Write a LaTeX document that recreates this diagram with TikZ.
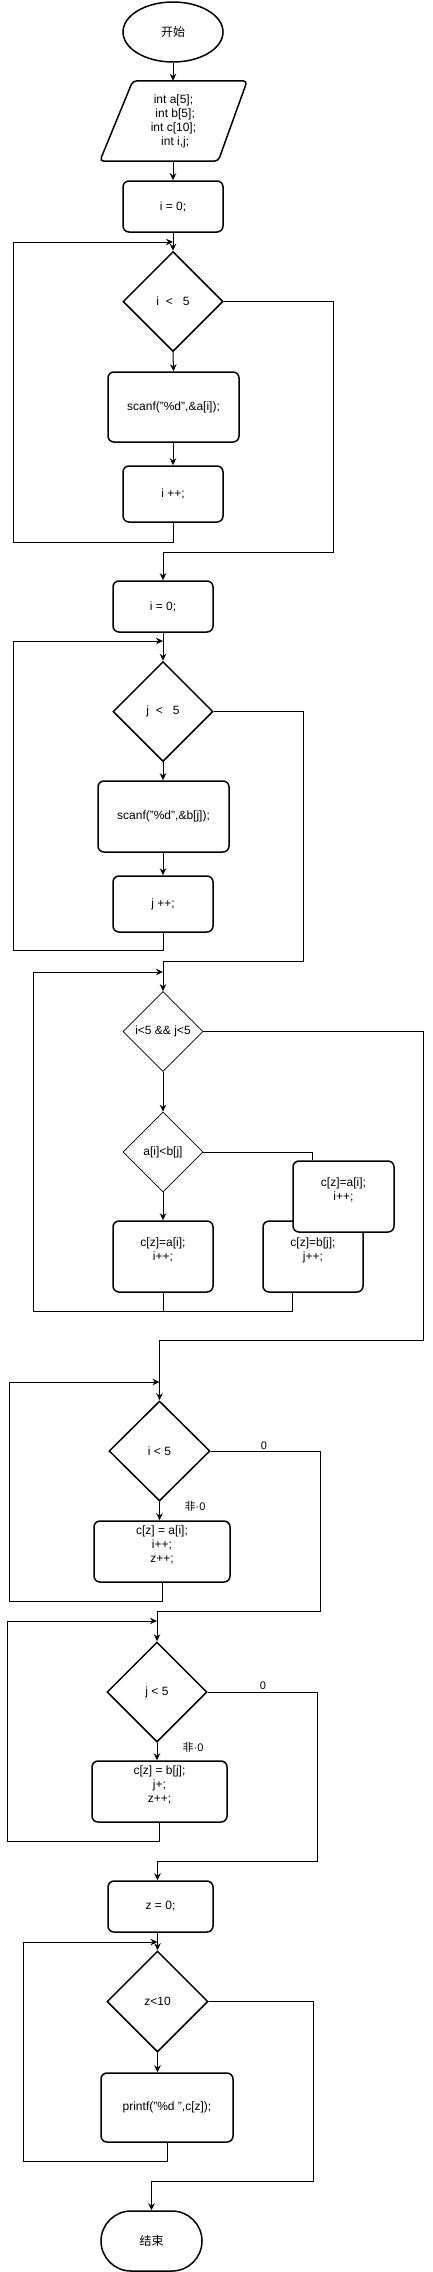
\documentclass[tikz,border=0pt]{standalone}
\usepackage{fontspec}
\setmainfont{Liberation Sans}
\newfontfamily\cjk{Noto Sans CJK SC}
\usetikzlibrary{shapes.geometric,arrows.meta,calc}
\begin{document}
\begin{tikzpicture}[x=1pt,y=-1pt,
  every node/.style={font=\fontsize{12}{14}\selectfont},
  box/.style={draw, line width=1.5pt, rounded corners=6pt, align=center, inner sep=0pt, fill=white},
  dia/.style={draw, diamond, aspect=1, line width=1.5pt, inner sep=0pt, align=center},
  thindia/.style={draw, diamond, aspect=1, line width=0.8pt, inner sep=0pt, align=center},
  arr/.style={-{Stealth[length=7pt,width=6.5pt]}, line width=1pt},
  ln/.style={line width=1pt},
  lbl/.style={font=\fontsize{11}{13}\selectfont, inner sep=1pt}]
\useasboundingbox (0,0) rectangle (432,2272);

% start
\node[draw, ellipse, line width=1.5pt, minimum width=100, minimum height=60, inner sep=0pt] (start) at (173,32) {\cjk 开始};
% declarations (parallelogram)
\node[minimum width=147, minimum height=80, inner sep=0pt, align=center] (decl) at (173.5,121) {int a[5];\\\ int b[5];\\int c[10];\\\ int i,j;};
\draw[line width=1.5pt, rounded corners=4pt] ($(decl.south west)+(50,0)$) -- (decl.south west) -- ($(decl.north west)+(33,0)$) -- (decl.north east) -- ($(decl.south east)+(-29,0)$) -- cycle;

% first loop
\node[box, minimum width=100, minimum height=51] (init1) at (173,206.5) {i = 0;};
\node[dia, minimum width=100, minimum height=100] (d1) at (173,301.5) {i\ \ <\ \ \ 5};
\node[box, minimum width=131, minimum height=70] (scanA) at (173.5,407) {scanf("\%d",\&a[i]);};
\node[box, minimum width=100, minimum height=56] (incI) at (173,494) {i ++;};
\coordinate (j1) at (173,242);

% second loop
\node[box, minimum width=100, minimum height=51] (init2) at (163,606.5) {i = 0;};
\node[dia, minimum width=100, minimum height=100] (d2) at (163,711.5) {j\ \ <\ \ \ 5};
\node[box, minimum width=131, minimum height=71] (scanB) at (163.5,816.5) {scanf("\%d",\&b[j]);};
\node[box, minimum width=100, minimum height=56] (incJ) at (163,904) {j ++;};
\coordinate (j2) at (163,641);

% merge loop
\node[thindia, minimum width=80, minimum height=80] (d3) at (163,1031.5) {i<5 \&\& j<5};
\node[thindia, minimum width=80, minimum height=80] (d4) at (163,1152) {a[i]<b[j]};
\node[box, minimum width=100, minimum height=71] (A) at (163,1256.5) {c[z]=a[i];\\ i++;\\\mbox{}};
\node[box, minimum width=100, minimum height=71] (B) at (313,1256.5) {c[z]=b[j];\\ j++;\\\mbox{}};
\node[box, minimum width=101, minimum height=71] (A2) at (343.5,1196.5) {c[z]=a[i];\\ i++;\\\mbox{}};
\coordinate (j3) at (163,972);
\coordinate (b3) at (163,1311);

% rest of a
\node[dia, minimum width=101, minimum height=100] (d5) at (159.5,1451) {i < 5};
\node[box, minimum width=136, minimum height=61] (C) at (162,1551.5) {c[z] = a[i];\\ i++;\\ z++;\\\mbox{}};
\coordinate (j5) at (159.5,1382);

% rest of b
\node[dia, minimum width=100, minimum height=100] (d6) at (157,1692) {j < 5};
\node[box, minimum width=135, minimum height=61] (D) at (159.5,1791.5) {c[z] = b[j];\\ j+;\\ z++;\\\mbox{}};
\coordinate (j6) at (157,1621);

% print loop
\node[box, minimum width=105, minimum height=51] (z0) at (160.5,1906.5) {z = 0;};
\node[dia, minimum width=101, minimum height=101] (d7) at (157.5,2001.5) {z<10};
\node[box, minimum width=132, minimum height=69] (P) at (167,2107.5) {printf("\%d ",c[z]);};
\coordinate (j7) at (157.5,1942);

% end
\node[draw, line width=1.5pt, rounded corners=30pt, minimum width=101, minimum height=60, inner sep=0pt] (end) at (151.5,2241) {\cjk 结束};

% connectors
\draw[arr] (start.south) -- (start.south |- decl.north);
\draw[arr] (start.south |- decl.south) -- (init1.north);
\draw[arr] (init1.south) -- (d1.north);
\draw[arr] (d1.south) -- (scanA.north);
\draw[arr] (scanA.south -| d1.south) -- (incI.north);
\draw[arr] (incI.south) -- ++(0,20) -| (13,242) -- (j1);
\draw[arr] (d1.east) -| (333,552) -| (init2.north);

\draw[arr] (init2.south) -- (d2.north);
\draw[arr] (d2.south) -- (scanB.north -| d2.south);
\draw[arr] (scanB.south -| d2.south) -- (incJ.north);
\draw[arr] (incJ.south) -- ++(0,18) -| (13,641) -- (j2);
\draw[arr] (d2.east) -| (303,961) -| (d3.north);

\draw[arr] (d3.south) -- (d4.north);
\draw[arr] (d4.south) -- (A.north);
\draw[ln] (d4.east) -| ($(A2.north west)+(20,0)$);
\draw[arr] (A.south) -- (b3) -| (33,972) -- (j3);
\draw[ln] ($(B.south west)+(30,0)$) |- (b3);
\draw[arr] (d3.east) -| (423,1340) -| (d5.north);

\draw[arr] (d5.south) -- (d5.south |- C.north);
\node[lbl] at (195,1506) {{\cjk 非}·0};
\node[lbl] at (264,1446) {0};
\draw[arr] (C.south) -- ++(0,19) -| (9,1382) -- (j5);
\draw[arr] (d5.east) -| (320,1611) -| (d6.north);

\draw[arr] (d6.south) -- (d6.south |- D.north);
\node[lbl] at (193,1747) {{\cjk 非}·0};
\node[lbl] at (263,1686) {0};
\draw[arr] (D.south) -- ++(0,19) -| (7,1621) -- (j6);
\draw[arr] (d6.east) -| (317,1861) -| (d7.north |- z0.north);

\draw[arr] (z0.south -| d7.north) -- (d7.north);
\draw[arr] (d7.south) -- (d7.south |- P.north);
\draw[arr] (P.south) -- ++(0,19) -| (23,1942) -- (j7);
\draw[arr] (d7.east) -| (313,2181) -| (end.north);
\end{tikzpicture}
\end{document}
